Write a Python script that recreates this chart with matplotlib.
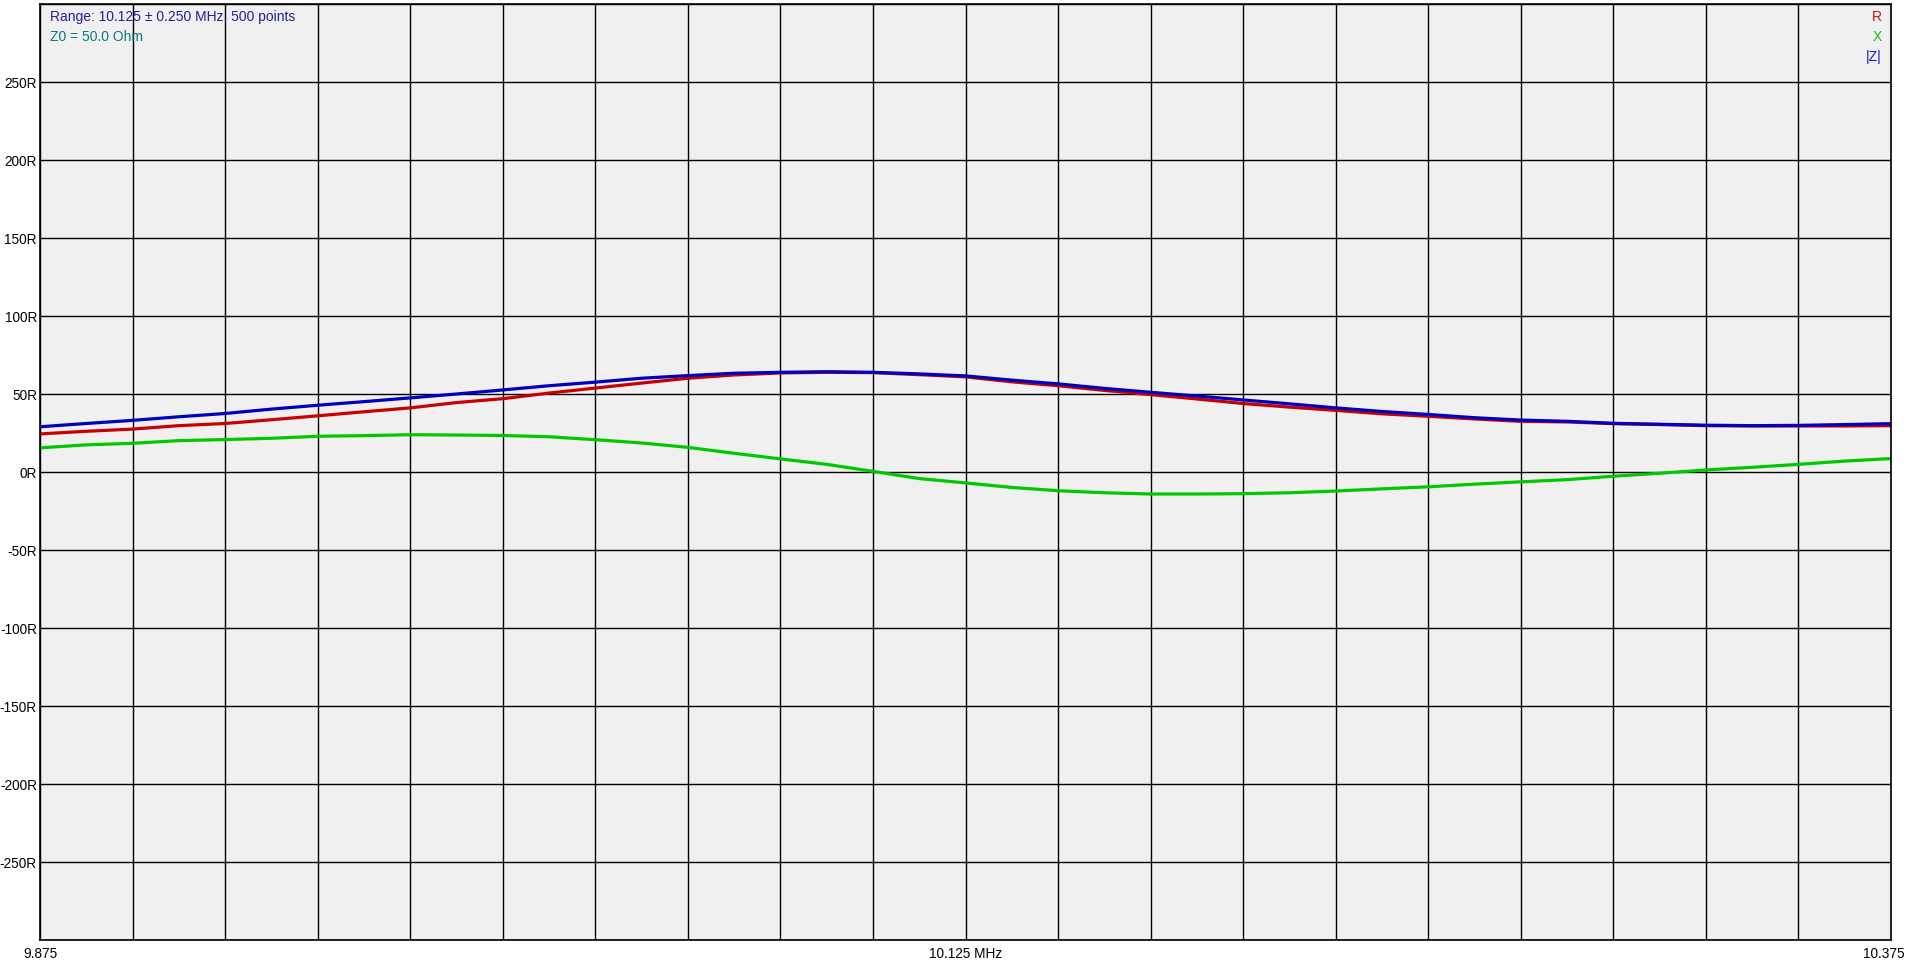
import matplotlib
matplotlib.use("Agg")
import matplotlib.pyplot as plt
import matplotlib.transforms as mtransforms
from matplotlib.ticker import MultipleLocator

plt.rcParams['font.family'] = ['Liberation Sans', 'DejaVu Sans']

# Frequency (MHz)
freq = [9.875, 9.8875, 9.900, 9.9125, 9.925, 9.9375, 9.950, 9.9625, 9.975, 9.9875,
        10.000, 10.0125, 10.025, 10.0375, 10.050, 10.0625, 10.075, 10.0875, 10.100, 10.1125,
        10.125, 10.1375, 10.150, 10.1625, 10.175, 10.1875, 10.200, 10.2125, 10.225, 10.2375,
        10.250, 10.2625, 10.275, 10.2875, 10.300, 10.3125, 10.325, 10.3375, 10.350, 10.3625,
        10.375]

# |Z| (Ohm)
z_abs = [29.0, 31.1, 33.1, 35.4, 37.5, 40.3, 42.8, 45.1, 47.5, 50.0,
         52.6, 55.3, 57.6, 60.1, 61.8, 63.3, 63.9, 64.3, 63.9, 62.9,
         61.6, 58.9, 56.5, 53.6, 51.1, 48.7, 46.2, 43.7, 41.1, 38.8,
         36.9, 34.8, 33.3, 32.5, 31.2, 30.6, 30.0, 29.7, 29.9, 30.4,
         31.0]

# R (Ohm)
r_vals = [24.4, 26.1, 27.5, 29.7, 31.1, 33.5, 36.0, 38.6, 41.1, 44.5,
          47.0, 50.6, 53.8, 57.0, 60.1, 62.2, 63.5, 63.9, 63.7, 62.4,
          61.0, 57.8, 55.3, 52.3, 49.6, 46.8, 43.9, 41.6, 39.5, 37.3,
          35.7, 34.0, 32.5, 32.1, 31.0, 30.4, 29.7, 29.5, 29.5, 29.5,
          29.7]

# X (Ohm)
x_vals = [15.5, 17.4, 18.4, 20.1, 20.8, 21.6, 22.9, 23.3, 23.9, 23.7,
          23.4, 22.6, 20.7, 18.6, 15.8, 12.0, 8.4, 4.9, 0.4, -4.2,
          -7.0, -9.9, -12.0, -13.3, -14.1, -14.1, -13.9, -13.3, -12.2, -10.8,
          -9.5, -7.8, -6.3, -4.9, -2.7, -0.8, 1.3, 3.0, 4.9, 7.0,
          8.6]

y_ticks = [-250, -200, -150, -100, -50, 0, 50, 100, 150, 200, 250]
y_labels = [f"{v}R" for v in y_ticks]
x_ticks = [9.875, 10.125, 10.375]
x_labels = ["9.875", "10.125 MHz", "10.375"]

W, H = 1915, 960
fig = plt.figure(figsize=(W / 100, H / 100), dpi=100)
fig.patch.set_facecolor('white')
ax = fig.add_axes([40 / W, 20 / H, 1851 / W, 936 / H])
ax.set_facecolor('#f0f0f0')

ax.set_xlim(9.875, 10.375)
ax.set_ylim(-300, 300)

ax.xaxis.set_minor_locator(MultipleLocator(0.025))
ax.yaxis.set_minor_locator(MultipleLocator(50))
ax.set_xticks(x_ticks)
ax.set_xticklabels(x_labels)
ax.set_yticks(y_ticks)
ax.set_yticklabels(y_labels)
ax.grid(which='both', color='black', linewidth=1.0)
ax.set_axisbelow(True)
ax.tick_params(which='both', length=0)
ax.tick_params(axis='y', pad=2.2, labelsize=9.8, colors='black')
ax.tick_params(axis='x', pad=5, labelsize=9.8, colors='black')
for s in ax.spines.values():
    s.set_color('black')
    s.set_linewidth(1.2)

# shift the last x label left so it stays inside the figure like the reference
last = ax.get_xticklabels()[-1]
last.set_transform(last.get_transform() +
                   mtransforms.ScaledTranslation(-7.5 / 100, 0, fig.dpi_scale_trans))

ax.plot(freq, r_vals, color='#c80000', linewidth=2.3)
ax.plot(freq, x_vals, color='#00c800', linewidth=2.3)
ax.plot(freq, z_abs, color='#0000c0', linewidth=2.3)

fs = 10
fig.text(50 / W, 1 - 17 / H, "Range: 10.125 \u00b1 0.250 MHz, 500 points",
         color='#20209a', fontsize=fs, ha='left', va='center')
fig.text(50 / W, 1 - 37 / H, "Z0 = 50.0 Ohm",
         color='#0a7a7a', fontsize=fs, ha='left', va='center')
fig.text(1882 / W, 1 - 17 / H, "R", color='#d01010', fontsize=fs, ha='right', va='center')
fig.text(1882 / W, 1 - 37 / H, "X", color='#10c010', fontsize=fs, ha='right', va='center')
fig.text(1882 / W, 1 - 57 / H, "|Z|", color='#1010d0', fontsize=fs, ha='right', va='center')

fig.savefig('out.png', dpi=100)
